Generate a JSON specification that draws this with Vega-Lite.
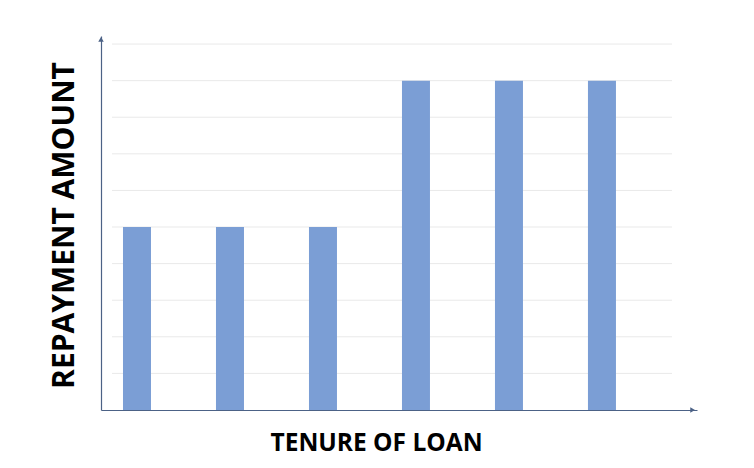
{
  "$schema": "https://vega.github.io/schema/vega-lite/v6.json",
  "autosize": {"type": "none"},
  "padding": {"left": 101, "top": 36, "right": 57, "bottom": 58},
  "width": 596,
  "height": 374,
  "background": "white",
  "config": {"view": {"stroke": null}},
  "datasets": {
    "bars": [
      {"tenure": 1, "amount": 5},
      {"tenure": 2, "amount": 5},
      {"tenure": 3, "amount": 5},
      {"tenure": 4, "amount": 9},
      {"tenure": 5, "amount": 9},
      {"tenure": 6, "amount": 9}
    ],
    "grid": [
      {"v": 1}, {"v": 2}, {"v": 3}, {"v": 4}, {"v": 5},
      {"v": 6}, {"v": 7}, {"v": 8}, {"v": 9}, {"v": 10}
    ]
  },
  "encoding": {
    "x": {
      "type": "quantitative",
      "scale": {"domain": [0.613, 7.022], "nice": false, "zero": false, "padding": 0},
      "axis": {
        "title": "TENURE OF LOAN", "labels": false, "ticks": false, "grid": false,
        "domainColor": "#4C6286", "domainWidth": 1.2,
        "titleFont": "Open Sans", "titleFontSize": 24.5, "titleFontWeight": "bold", "titleColor": "#000000",
        "titleX": 275, "titleY": 33, "titleBaseline": "middle", "titleAlign": "center"
      }
    },
    "y": {
      "type": "quantitative",
      "scale": {"domain": [0, 10.22], "nice": false, "zero": true, "padding": 0},
      "axis": {
        "title": "REPAYMENT AMOUNT", "labels": false, "ticks": false, "grid": false,
        "domainColor": "#4C6286", "domainWidth": 1.2,
        "titleFont": "Open Sans", "titleFontSize": 30, "titleFontWeight": "bold", "titleColor": "#000000",
        "titleX": -37, "titleY": 189, "titleBaseline": "middle", "titleAlign": "center", "titleAngle": 270
      }
    }
  },
  "layer": [
    {
      "data": {"name": "grid"},
      "mark": {"type": "rule", "color": "#E9E9E9", "strokeWidth": 1},
      "encoding": {
        "y": {"field": "v"},
        "x": {"datum": 0.731},
        "x2": {"datum": 6.753}
      }
    },
    {
      "data": {"name": "bars"},
      "mark": {"type": "bar", "size": 28, "color": "#7B9ED5"},
      "encoding": {
        "x": {"field": "tenure"},
        "y": {"field": "amount"}
      }
    },
    {
      "data": {"values": [{}]},
      "mark": {"type": "point", "shape": "triangle-up", "filled": true, "color": "#4C6286", "size": 30, "opacity": 1},
      "encoding": {
        "x": {"datum": 0.613},
        "y": {"datum": 10.13}
      }
    },
    {
      "data": {"values": [{}]},
      "mark": {"type": "point", "shape": "triangle-right", "filled": true, "color": "#4C6286", "size": 30, "opacity": 1},
      "encoding": {
        "x": {"datum": 6.975},
        "y": {"datum": 0}
      }
    }
  ]
}
